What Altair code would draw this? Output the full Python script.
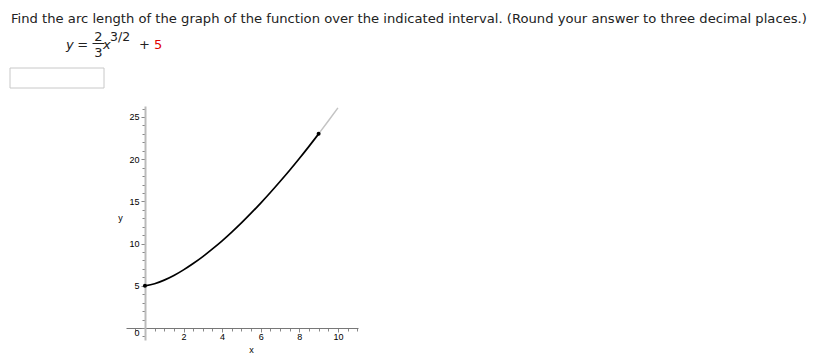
import altair as alt
import pandas as pd

# ---- data ----
curve_x = [0, 0.5, 1, 1.5, 2, 2.5, 3, 3.5, 4, 4.5, 5, 5.5, 6, 6.5, 7, 7.5, 8, 8.5, 9]
curve_y = [5.00, 5.24, 5.67, 6.22, 6.89, 7.64, 8.46, 9.37, 10.33, 11.36, 12.45,
           13.60, 14.80, 16.05, 17.35, 18.69, 20.08, 21.52, 23.00]
ext_x = [9, 9.5, 10]
ext_y = [23.00, 24.52, 26.08]
end_x = [0, 9]
end_y = [5, 23]

x_ticks = [i * 0.5 for i in range(-1, 23)]
y_ticks = list(range(-1, 27))

question = "Find the arc length of the graph of the function over the indicated interval. (Round your answer to three decimal places.)"

curve = pd.DataFrame({"x": curve_x, "y": curve_y})
ext = pd.DataFrame({"x": ext_x, "y": ext_y})
ends = pd.DataFrame({"x": end_x, "y": end_y})

LABEL_FONT = "Liberation Sans"
TEXT_FONT = "DejaVu Sans"

xscale = alt.Scale(domain=[-0.98, 11.04], nice=False, zero=False)
yscale = alt.Scale(domain=[-1.42, 26.3], nice=False, zero=False)

xaxis = alt.Axis(
    values=x_ticks, offset=-12, grid=False, labelOverlap=False, labelFlush=False,
    labelExpr="datum.value > 0 && datum.value % 2 === 0 ? format(datum.value, 'd') : ''",
    tickSize={"condition": {"test": "datum.value % 2 === 0", "value": 4}, "value": 3},
    tickColor="#888888", domainColor="#777777", domainWidth=1,
    labelFont=LABEL_FONT, labelFontSize=9, labelColor="#000000", labelPadding=0,
    title="x", titleFont=LABEL_FONT, titleFontSize=9, titleFontWeight="normal",
    titleColor="#000000", titleX=125, titleY=21, titleBaseline="middle",
)
yaxis = alt.Axis(
    values=y_ticks, offset=-19, grid=False, labelOverlap=False, labelFlush=False,
    format="d",
    labelExpr="datum.value >= 0 && datum.value % 5 === 0 ? datum.label : ''",
    tickSize={"condition": {"test": "datum.value % 5 === 0", "value": 4}, "value": 3},
    labelOffset={"condition": {"test": "datum.value === 0", "value": 4}, "value": 0},
    tickColor="#888888", domainColor="#bbbbbb", domainWidth=2,
    labelFont=LABEL_FONT, labelFontSize=9, labelColor="#000000", labelPadding=2,
    title="y", titleAngle=0, titleFont=LABEL_FONT, titleFontSize=9,
    titleFontWeight="normal", titleColor="#000000",
    titleX=-25, titleY=111, titleAlign="center", titleBaseline="middle",
)

X = alt.X("x:Q", scale=xscale, axis=xaxis)
Y = alt.Y("y:Q", scale=yscale, axis=yaxis)

base_line = alt.Chart(curve).mark_line(color="#000000", strokeWidth=1.7, interpolate="monotone").encode(x=X, y=Y)
ext_line = alt.Chart(ext).mark_line(color="#c4c4c4", strokeWidth=1.5, interpolate="monotone").encode(x=X, y=Y)
dots = alt.Chart(ends).mark_circle(color="#000000", size=16, opacity=1).encode(x=X, y=Y)

one = alt.Data(values=[{"a": 1}])


def txt(s, x, y, size=13, color="#222222", align="left", style="normal", baseline="alphabetic"):
    return alt.Chart(one).mark_text(
        text=s, font=TEXT_FONT, fontSize=size, color=color, align=align,
        fontStyle=style, baseline=baseline,
    ).encode(x=alt.value(x), y=alt.value(y))


header = txt(question, -115, -83, size=13.15)
eq_y = txt("y", -60, -57.5, style="italic")
eq_eq = txt("=", -43.3, -57.5, align="center")
eq_num = txt("2", -27.5, -65, align="center")
eq_den = txt("3", -27.5, -49, align="center")
eq_bar = alt.Chart(one).mark_rule(color="#222222", strokeWidth=1).encode(
    x=alt.value(-33.5), x2=alt.value(-21.5), y=alt.value(-62.5)
)
eq_x = txt("x", -23, -57.5, style="italic")
eq_pow = txt("3/2", -16, -65, size=12.5)
eq_plus = txt("+", 18.5, -57.5, align="center")
eq_five = txt("5", 28, -57.5, color="#e00000")

box = alt.Chart(one).mark_rect(fill="#ffffff", stroke="#c8c8c8", strokeWidth=1).encode(
    x=alt.value(-116), x2=alt.value(-22), y=alt.value(-38), y2=alt.value(-18)
)

chart = alt.layer(
    base_line, ext_line, dots,
    header, eq_y, eq_eq, eq_num, eq_den, eq_bar, eq_x, eq_pow, eq_plus, eq_five, box,
).properties(
    width=232, height=234,
    background="#ffffff",
    autosize=alt.AutoSizeParams(type="none"),
    padding={"left": 126, "top": 106, "right": 455, "bottom": 20},
).configure_view(strokeWidth=0, stroke=None)

chart.save("out.html", embed_options={"renderer": "svg", "actions": False})
